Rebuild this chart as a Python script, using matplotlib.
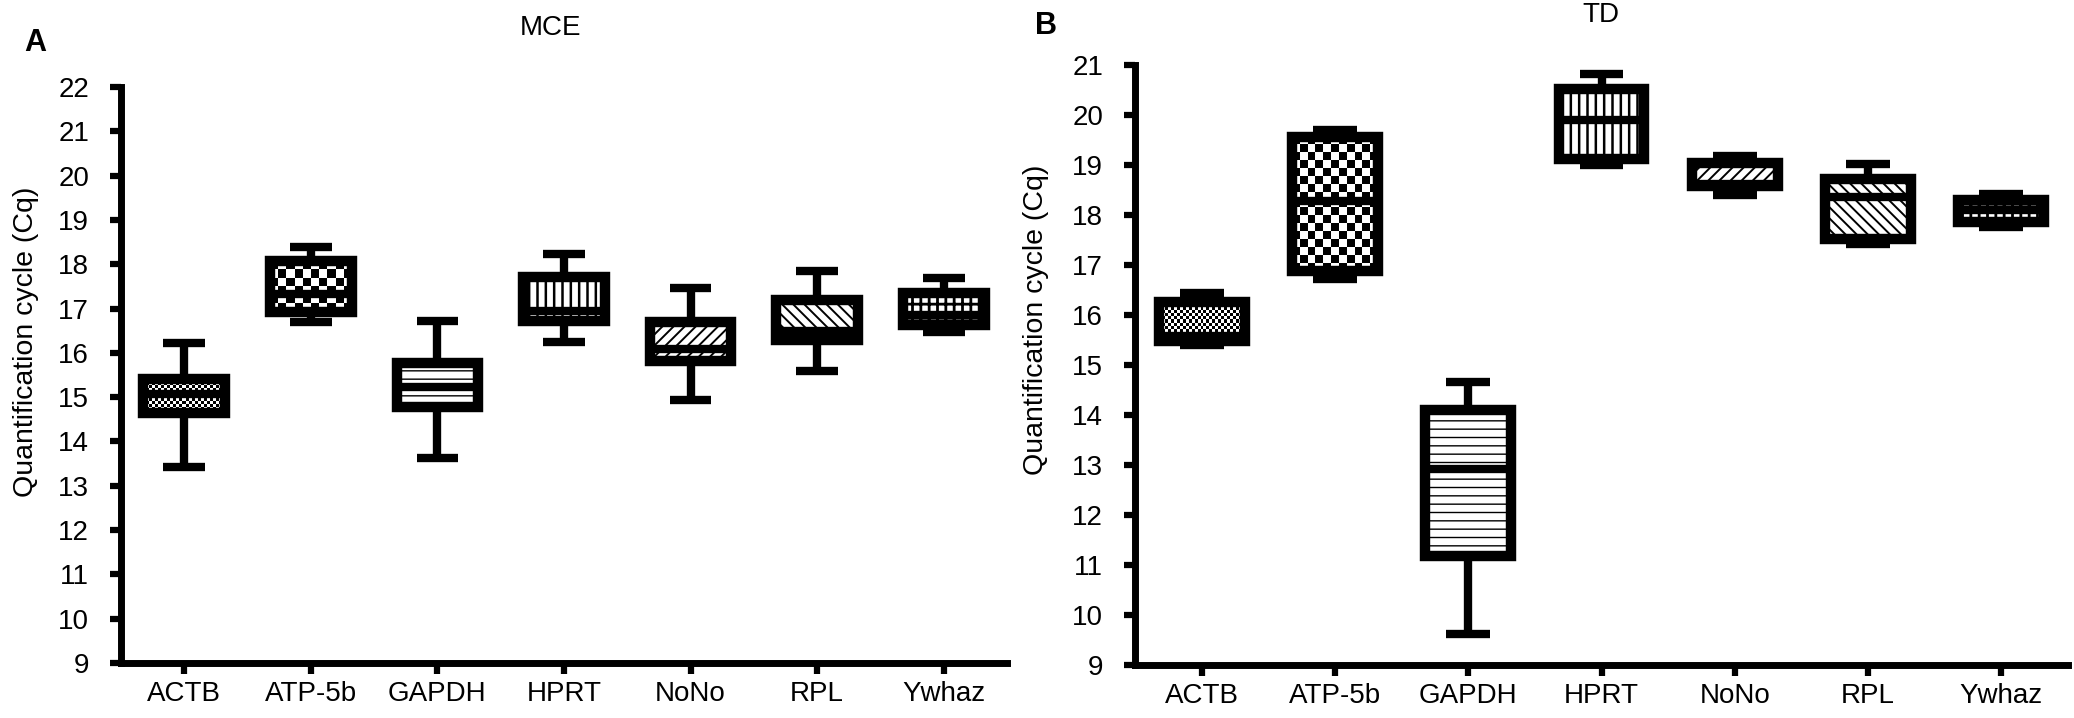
import numpy as np
import matplotlib
matplotlib.use('Agg')
import matplotlib.pyplot as plt

plt.rcParams['font.family'] = ['Liberation Sans', 'DejaVu Sans']

genes = ['ACTB', 'ATP-5b', 'GAPDH', 'HPRT', 'NoNo', 'RPL', 'Ywhaz']

# MCE panel (A)
mce_low = [13.43, 16.70, 13.62, 16.24, 14.94, 15.58, 16.46]
mce_q1 = [14.65, 16.93, 14.77, 16.72, 15.82, 16.29, 16.63]
mce_med = [15.08, 17.33, 15.22, 16.94, 16.09, 16.49, 16.85]
mce_q3 = [15.40, 18.08, 15.77, 17.72, 16.69, 17.20, 17.36]
mce_high = [16.22, 18.38, 16.72, 18.23, 17.47, 17.85, 17.69]

# TD panel (B)
td_low = [15.41, 16.73, 9.63, 19.00, 18.41, 17.42, 17.76]
td_q1 = [15.48, 16.88, 11.18, 19.13, 18.58, 17.53, 17.87]
td_med = [15.58, 18.28, 12.93, 19.90, 18.63, 18.35, 18.10]
td_q3 = [16.27, 19.57, 14.10, 20.52, 19.05, 18.73, 18.30]
td_high = [16.45, 19.71, 14.67, 20.82, 19.17, 19.03, 18.42]

# fill pattern of each gene: hatch string or checker cell size (px)
patterns = ['check3', 'check8', '--', '||', '///', '\\\\\\', '++']
hatch_lw = [1, 1, 1.0, 1.8, 1.4, 1.4, 2.0]

fig = plt.figure(figsize=(20.74, 7.18), dpi=100)
ax1 = fig.add_axes([121 / 2074, 1 - 663 / 718, 886 / 2074, 576 / 718])
ax2 = fig.add_axes([1135 / 2074, 1 - 665 / 718, 933 / 2074, 600 / 718])

LW = 6


def checker(ax, patch, cell):
    ext = patch.get_path().get_extents()
    p0 = ax.transData.transform((ext.x0, ext.y0))
    p1 = ax.transData.transform((ext.x1, ext.y1))
    nx = max(1, int(round(abs(p1[0] - p0[0]) / cell)))
    ny = max(1, int(round(abs(p1[1] - p0[1]) / cell)))
    img = np.add.outer(np.arange(ny), np.arange(nx)) % 2
    im = ax.imshow(img, cmap='gray', extent=(ext.x0, ext.x1, ext.y0, ext.y1),
                   aspect='auto', interpolation='nearest', zorder=1.9)
    im.set_clip_path(patch)


def panel(ax, low, q1, med, q3, high, ymax, title_y):
    ax.set_xlim(-0.5, 6.5)
    ax.set_ylim(9, ymax)
    stats = []
    for i in range(len(genes)):
        stats.append({'label': genes[i], 'whislo': low[i], 'q1': q1[i], 'med': med[i],
                      'q3': q3[i], 'whishi': high[i], 'fliers': []})
    bp = ax.bxp(stats, positions=range(len(genes)), widths=0.645, capwidths=0.33,
                patch_artist=True, showfliers=False,
                boxprops=dict(facecolor='white', edgecolor='black', linewidth=7.5, joinstyle='miter'),
                whiskerprops=dict(color='black', linewidth=LW, solid_capstyle='butt'),
                capprops=dict(color='black', linewidth=LW, solid_capstyle='butt'),
                medianprops=dict(color='black', linewidth=LW, solid_capstyle='butt', zorder=3))
    for i, box in enumerate(bp['boxes']):
        pat = patterns[i]
        if pat.startswith('check'):
            box.set_facecolor('none')
            checker(ax, box, float(pat[5:]))
        else:
            box.set_hatch(pat)
            if hasattr(box, 'set_hatch_linewidth'):
                box.set_hatch_linewidth(hatch_lw[i])
    ax.set_xlim(-0.5, 6.5)
    ax.set_ylim(9, ymax)
    ax.set_yticks(range(9, ymax + 1))
    ax.set_xticks(range(len(genes)))
    ax.set_xticklabels(genes)
    for s in ['top', 'right']:
        ax.spines[s].set_visible(False)
    for s in ['left', 'bottom']:
        ax.spines[s].set_linewidth(5)
    ax.tick_params(axis='y', length=8, width=4.5, labelsize=20, pad=15)
    ax.tick_params(axis='x', length=8, width=4.5, labelsize=20, pad=5)
    ax.set_ylabel('Quantification cycle (Cq)', fontsize=20.5)
    ax.yaxis.set_label_coords(-0.092, title_y)


plt.rcParams['hatch.linewidth'] = 1.4
panel(ax1, mce_low, mce_q1, mce_med, mce_q3, mce_high, 22, 0.557)
panel(ax2, td_low, td_q1, td_med, td_q3, td_high, 21, 0.575)

fig.text(550 / 2074, 1 - 28 / 718, 'MCE', fontsize=20, ha='center', va='center')
fig.text(1601 / 2074, 1 - 15 / 718, 'TD', fontsize=20, ha='center', va='center')
fig.text(35 / 2074, 1 - 43 / 718, 'A', fontsize=22, fontweight='bold', ha='center', va='center')
fig.text(1046 / 2074, 1 - 26 / 718, 'B', fontsize=22, fontweight='bold', ha='center', va='center')

fig.savefig('out.png', dpi=100)
